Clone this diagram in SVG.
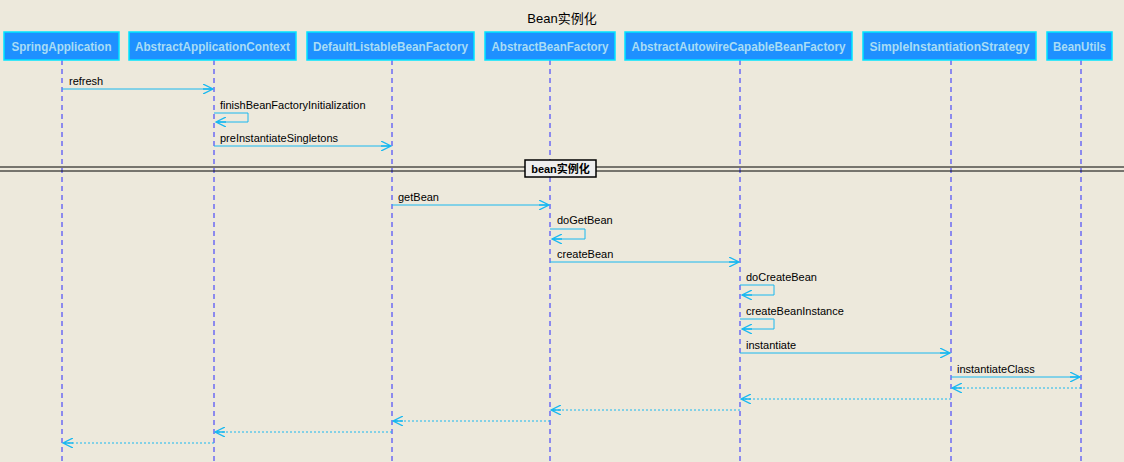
<svg xmlns="http://www.w3.org/2000/svg" width="1124" height="462" viewBox="0 0 1124 462">
<style>
.box{fill:#1e90ff;stroke:#00e5ff;stroke-width:1.5}
.bt{font-family:"Liberation Sans",sans-serif;font-weight:bold;font-size:12px;fill:#a8dcf5;text-anchor:middle}
.ll{stroke:#2a2aff;stroke-width:1;stroke-dasharray:5,4}
.m{stroke:#18b8f0;stroke-width:1;fill:none}
.r{stroke:#18b8f0;stroke-width:1;fill:none;stroke-dasharray:2,2}
.t{font-family:"Liberation Sans",sans-serif;font-size:11px;fill:#000}
</style>
<defs>
<marker id="a" markerWidth="12" markerHeight="10" refX="10" refY="5" orient="auto" markerUnits="userSpaceOnUse">
<path d="M0,0 L10,5 L0,10 M10,5 L0,5" fill="none" stroke="#18b8f0" stroke-width="1.3"/>
</marker>
</defs>
<rect width="1124" height="462" fill="#ede9dc"/>
<text x="562" y="23" font-family="'Liberation Sans','Noto Sans CJK SC',sans-serif" font-size="13" text-anchor="middle">Bean实例化</text>
<g id="lifelines">
<line class="ll" x1="62" y1="60" x2="62" y2="462"/>
<line class="ll" x1="214" y1="60" x2="214" y2="462"/>
<line class="ll" x1="392" y1="60" x2="392" y2="462"/>
<line class="ll" x1="550" y1="60" x2="550" y2="462"/>
<line class="ll" x1="740" y1="60" x2="740" y2="462"/>
<line class="ll" x1="951" y1="60" x2="951" y2="462"/>
<line class="ll" x1="1081" y1="60" x2="1081" y2="462"/>
</g>
<g id="n1"><rect class="box" x="4" y="32" width="115" height="28"/><text class="bt" x="61.5" y="51" textLength="100" lengthAdjust="spacingAndGlyphs">SpringApplication</text></g>
<g id="n2"><rect class="box" x="129" y="32" width="167" height="28"/><text class="bt" x="212.5" y="51" textLength="155" lengthAdjust="spacingAndGlyphs">AbstractApplicationContext</text></g>
<g id="n3"><rect class="box" x="307" y="32" width="167" height="28"/><text class="bt" x="390.5" y="51" textLength="155" lengthAdjust="spacingAndGlyphs">DefaultListableBeanFactory</text></g>
<g id="n4"><rect class="box" x="485" y="32" width="130" height="28"/><text class="bt" x="550" y="51" textLength="117" lengthAdjust="spacingAndGlyphs">AbstractBeanFactory</text></g>
<g id="n5"><rect class="box" x="625" y="32" width="227" height="28"/><text class="bt" x="738.5" y="51" textLength="214" lengthAdjust="spacingAndGlyphs">AbstractAutowireCapableBeanFactory</text></g>
<g id="n6"><rect class="box" x="863" y="32" width="173" height="28"/><text class="bt" x="949.5" y="51" textLength="160" lengthAdjust="spacingAndGlyphs">SimpleInstantiationStrategy</text></g>
<g id="n7"><rect class="box" x="1047" y="32" width="65" height="28"/><text class="bt" x="1079.5" y="51" textLength="53" lengthAdjust="spacingAndGlyphs">BeanUtils</text></g>
<g id="divider">
<line x1="0" y1="167" x2="1124" y2="167" stroke="#000" stroke-width="1"/>
<line x1="0" y1="171" x2="1124" y2="171" stroke="#000" stroke-width="1"/>
<rect x="525" y="160" width="71" height="17" fill="#eeeeee" stroke="#000" stroke-width="1.5"/>
<text x="560.5" y="173" font-family="'Liberation Sans','Noto Sans CJK SC',sans-serif" font-size="11" font-weight="bold" text-anchor="middle">bean实例化</text>
</g>
<g id="connectors">
<line class="m" x1="62" y1="89" x2="213" y2="89" marker-end="url(#a)"/><text class="t" x="69" y="85">refresh</text>
<path class="m" d="M214,113 H248 V122 H216" marker-end="url(#a)"/><text class="t" x="220" y="109">finishBeanFactoryInitialization</text>
<line class="m" x1="214" y1="146" x2="391" y2="146" marker-end="url(#a)"/><text class="t" x="220" y="142">preInstantiateSingletons</text>
<line class="m" x1="392" y1="205" x2="549" y2="205" marker-end="url(#a)"/><text class="t" x="398" y="201">getBean</text>
<path class="m" d="M550,229 H585 V239 H552" marker-end="url(#a)"/><text class="t" x="557" y="224">doGetBean</text>
<line class="m" x1="550" y1="262" x2="739" y2="262" marker-end="url(#a)"/><text class="t" x="557" y="258">createBean</text>
<path class="m" d="M740,285 H774 V295 H742" marker-end="url(#a)"/><text class="t" x="746" y="281">doCreateBean</text>
<path class="m" d="M740,319 H774 V329 H742" marker-end="url(#a)"/><text class="t" x="746" y="315">createBeanInstance</text>
<line class="m" x1="740" y1="353" x2="950" y2="353" marker-end="url(#a)"/><text class="t" x="746" y="349">instantiate</text>
<line class="m" x1="951" y1="377" x2="1080" y2="377" marker-end="url(#a)"/><text class="t" x="957" y="373">instantiateClass</text>
<line class="r" x1="1081" y1="388" x2="952" y2="388" marker-end="url(#a)"/>
<line class="r" x1="951" y1="399" x2="741" y2="399" marker-end="url(#a)"/>
<line class="r" x1="740" y1="410" x2="551" y2="410" marker-end="url(#a)"/>
<line class="r" x1="550" y1="421" x2="393" y2="421" marker-end="url(#a)"/>
<line class="r" x1="392" y1="432" x2="215" y2="432" marker-end="url(#a)"/>
<line class="r" x1="214" y1="443" x2="63" y2="443" marker-end="url(#a)"/>
</g>
</svg>
